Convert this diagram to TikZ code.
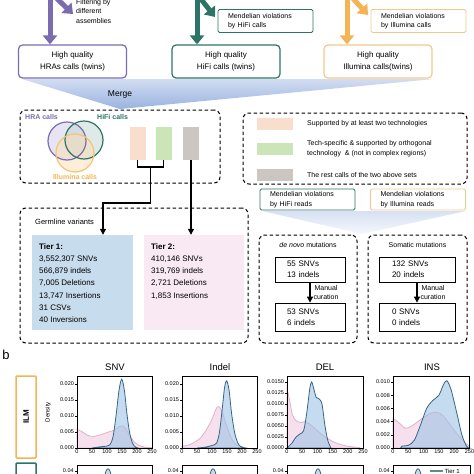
\documentclass[tikz,border=0pt]{standalone}
\usepackage{fontspec}
\setmainfont{Liberation Sans}
\usetikzlibrary{arrows.meta}

\definecolor{hrapurple}{HTML}{7A6CAE}
\definecolor{hifiteal}{HTML}{2E7466}
\definecolor{ilmorange}{HTML}{F4B455}
\definecolor{ilmframe}{HTML}{F1C98B}
\definecolor{tierblue}{HTML}{C7DCEC}
\definecolor{tierpink}{HTML}{F8E9F2}
\definecolor{suppeach}{HTML}{F9DDCD}
\definecolor{supgreen}{HTML}{CBE5B8}
\definecolor{restgray}{HTML}{CBC6C1}
\definecolor{dblue}{HTML}{9DC3E6}
\definecolor{dblueline}{HTML}{3A6486}
\definecolor{dpink}{HTML}{F1CCE2}
\definecolor{dpinkline}{HTML}{DDB1CD}
\definecolor{mergeblue}{HTML}{9AB3E0}

\tikzset{
  callbox/.style={draw, rounded corners=4pt, line width=1.2pt, minimum width=108pt,
    minimum height=33pt, align=center, inner sep=0pt, font=\fontsize{8}{11.5}\selectfont},
  mvbox/.style={draw, rounded corners=1.5pt, line width=0.9pt, minimum width=95pt,
    minimum height=23pt, text width=75pt, align=left, inner sep=0pt,
    font=\fontsize{7}{9.5}\selectfont},
  groupbox/.style={draw, line width=1pt, dash pattern=on 3.5pt off 2.5pt,
    rounded corners=6pt, inner sep=0pt},
  countbox/.style={draw, line width=0.8pt, minimum width=70pt, minimum height=25pt,
    align=left, inner sep=0pt, font=\fontsize{8}{11}\selectfont},
  fatarrow/.style={line width=5pt, -{Triangle[width=14pt,length=9pt]}},
  flow/.style={line width=1.2pt, -{Triangle[width=6pt,length=6pt]}},
  small/.style={font=\fontsize{7}{9.5}\selectfont},
  tiertext/.style={anchor=north west, align=left, inner sep=0pt,
    font=\fontsize{8}{12.3}\selectfont},
  ticklabel/.style={font=\fontsize{5.5}{6}\selectfont, inner sep=1pt},
  panel/.style={line width=0.6pt},
  tierone/.style={fill=dblue, fill opacity=0.6, draw=dblueline, line width=0.8pt},
  tiertwo/.style={fill=dpink, fill opacity=0.6, draw=dpinkline, line width=0.8pt}
}

\begin{document}
\begin{tikzpicture}[x=1pt,y=-1pt]
\clip (0,0) rectangle (474,474);

% calls of the three technologies
\node[callbox, draw=hrapurple] (hraCalls) at (72.5,61.5) {High quality\\HRAs calls (twins)};
\node[callbox, draw=hifiteal] (hifiCalls) at (226,61.5) {High quality\\HiFi calls (twins)};
\node[callbox, draw=ilmframe] (ilmCalls) at (378,61.5) {High quality\\Illumina calls(twins)};

\node[mvbox, draw=hifiteal] (hifiMv) at (265.5,21) {Mendelian violations\\by HiFi calls};
\node[mvbox, draw=ilmframe] (ilmMv) at (418.5,21) {Mendelian violations\\by Illumina calls};
\node[small, anchor=north west, align=left, inner sep=0pt] (filterText) at (76,-1)
  {Filtering by\\different\\assemblies};

\coordinate (hraIn) at (50,-15);
\coordinate (hraFork) at (50,-8);
\coordinate (hraOut) at (73,14);
\coordinate (hifiIn) at (197,-15);
\coordinate (hifiFork) at (197,-6);
\coordinate (hifiOut) at (215,17);
\coordinate (ilmIn) at (347,-15);
\coordinate (ilmFork) at (347,-8);
\coordinate (ilmOut) at (368,15);

\draw[fatarrow, hrapurple] (hraIn) -- (hraIn |- hraCalls.north);
\draw[fatarrow, hrapurple] (hraFork) -- (hraOut);
\draw[fatarrow, hifiteal] (hifiIn) -- (hifiIn |- hifiCalls.north);
\draw[fatarrow, hifiteal] (hifiFork) -- (hifiOut);
\draw[fatarrow, ilmorange] (ilmIn) -- (ilmIn |- ilmCalls.north);
\draw[fatarrow, ilmorange] (ilmFork) -- (ilmOut);

% merge
\shade[top color=mergeblue!45, bottom color=mergeblue] (22,79) -- (434,79) -- (120,109) -- cycle;
\node[font=\fontsize{8.5}{10}\selectfont] (merge) at (120,94) {Merge};

% venn and call sets
\node[groupbox, minimum width=200pt, minimum height=73pt] (venn) at (120,146.5) {};
\fill[hrapurple!35, fill opacity=0.5] (67,141) circle (19pt);
\fill[hifiteal!30, fill opacity=0.5] (84,140) circle (19pt);
\fill[ilmorange!45, fill opacity=0.5] (75,153) circle (19pt);
\draw[hrapurple, line width=1.2pt] (67,141) circle (19pt);
\draw[hifiteal, line width=1.2pt] (84,140) circle (19pt);
\draw[ilmorange!80, line width=1.2pt] (75,153) circle (19pt);
\node[anchor=west, inner sep=0pt, text=hrapurple, font=\bfseries\fontsize{7}{8}\selectfont] (hraLabel) at (25,117) {HRA calls};
\node[anchor=west, inner sep=0pt, text=hifiteal, font=\bfseries\fontsize{7}{8}\selectfont] (hifiLabel) at (97,117) {HiFi calls};
\node[inner sep=0pt, text=ilmorange, font=\bfseries\fontsize{7}{8}\selectfont] (ilmLabel) at (75,177) {Illumina calls};

\node[fill=suppeach, minimum width=16pt, minimum height=33pt, inner sep=0pt] (peachBar) at (137.5,143.5) {};
\node[fill=supgreen, minimum width=16pt, minimum height=33pt, inner sep=0pt] (greenBar) at (163.5,143.5) {};
\node[fill=restgray, minimum width=16pt, minimum height=33pt, inner sep=0pt] (grayBar) at (191,143.5) {};

% legend
\node[groupbox, minimum width=224pt, minimum height=71pt] (legend) at (355,148.5) {};
\node[fill=suppeach, minimum width=36pt, minimum height=12pt, inner sep=0pt] (peachKey) at (275,124) {};
\node[fill=supgreen, minimum width=36pt, minimum height=12pt, inner sep=0pt] (greenKey) at (275,149) {};
\node[fill=restgray, minimum width=36pt, minimum height=12pt, inner sep=0pt] (grayKey) at (275,175) {};
\node[small, anchor=west, inner sep=0pt] (peachText) at (307,124) {Supported by at least two technologies};
\node[small, anchor=west, align=left, inner sep=0pt] (greenText) at (307,148.5)
  {Tech-specific \& supported by orthogonal\\technology\ \ \& (not in complex regions)};
\node[small, anchor=west, inner sep=0pt] (grayText) at (307,175) {The rest calls of the two above sets};

% germline variants
\node[groupbox, minimum width=228pt, minimum height=135pt] (germline) at (134,275.5) {};
\node[anchor=west, inner sep=0pt, font=\fontsize{7.5}{9}\selectfont] (germText) at (35,222) {Germline variants};
\node[fill=tierblue, minimum width=101pt, minimum height=95pt, inner sep=0pt] (tierOne) at (82.5,282.5) {};
\node[fill=tierpink, minimum width=100pt, minimum height=95pt, inner sep=0pt] (tierTwo) at (193.5,282.5) {};
\node[tiertext] (tierOneText) at (39,243)
  {\textbf{Tier 1:}\\3,552,307 SNVs\\566,879 indels\\7,005 Deletions\\13,747 Insertions\\31 CSVs\\40 Inversions};
\node[tiertext] (tierTwoText) at (151,243)
  {\textbf{Tier 2:}\\410,146 SNVs\\319,769 indels\\2,721 Deletions\\1,853 Insertions};

\coordinate (bracketMid) at (150.5,167);
\coordinate (bracketBend) at (103,203);
\draw[line width=1.2pt] (peachBar.south) |- (bracketMid) -| (greenBar.south);
\draw[flow] (bracketMid) |- (bracketBend) -- (bracketBend |- tierOne.north);
\draw[flow] (grayBar.south) -- (grayBar.south |- tierTwo.north);

% mutations
\node[mvbox, draw=hifiteal, minimum height=21pt] (hifiReads) at (307.5,199.5) {Mendelian violations\\by HiFi reads};
\node[mvbox, draw=ilmframe, minimum height=21pt] (ilmReads) at (418,199.5) {Mendelian violations\\by Illumina reads};
\shade[top color=mergeblue!40, bottom color=mergeblue!10] (262,211) -- (466,211) -- (362,234) -- cycle;

\node[groupbox, minimum width=98pt, minimum height=108pt] (deNovo) at (308,289) {};
\node[groupbox, minimum width=99pt, minimum height=108pt] (somatic) at (417.5,289) {};
\node[small] (deNovoTitle) at (308,245) {\textit{de novo} mutations};
\node[small] (somaticTitle) at (417.5,245) {Somatic mutations};

\node[countbox, text width=46pt] (deNovoRaw) at (310,269.5) {55 SNVs\\13 indels};
\node[countbox, text width=46pt, minimum height=28pt] (deNovoCur) at (310,317) {53 SNVs\\6 indels};
\node[countbox, minimum width=76pt, text width=50pt] (somaticRaw) at (417,269.5) {132 SNVs\\20 indels};
\node[countbox, minimum width=76pt, text width=50pt, minimum height=28pt] (somaticCur) at (417,317) {0 SNVs\\0 indels};
\draw[flow] (deNovoRaw) -- node[small, right=3pt, align=center, inner sep=0pt] {Manual\\curation} (deNovoCur);
\draw[flow] (somaticRaw) -- node[small, right=3pt, align=center, inner sep=0pt] {Manual\\curation} (somaticCur);

% panel b
\node[font=\fontsize{13}{14}\selectfont] (panelB) at (6,355) {b};
\node[draw=ilmorange, line width=1.5pt, rounded corners=1pt, minimum width=20pt, minimum height=82pt] (ilmRow) at (26,417) {};
\node[rotate=90, font=\bfseries\fontsize{8}{9}\selectfont] (ilmRowText) at (26,417) {ILM};
\node[draw=hifiteal, line width=1.5pt, rounded corners=1pt, minimum width=20pt, minimum height=30pt] (hifiRow) at (26,478) {};
\node[rotate=90, font=\fontsize{6}{7}\selectfont] (densityLabel) at (48,412) {Density};

\node[font=\fontsize{9.5}{10}\selectfont] (snvTitle) at (115,367) {SNV};
\node[font=\fontsize{9.5}{10}\selectfont] (indelTitle) at (220,367) {Indel};
\node[font=\fontsize{9.5}{10}\selectfont] (delTitle) at (325,367) {DEL};
\node[font=\fontsize{9.5}{10}\selectfont] (insTitle) at (432,367) {INS};

% SNV
\begin{scope}[shift={(77,448)}, x=0.3pt, y=3.2pt]
\filldraw[tiertwo] (0,0) -- plot[smooth] coordinates {(0,5.8) (15,5.2) (35,4) (55,3.6) (80,4.2) (105,5) (125,5.6) (145,6.9) (160,6.3) (175,4) (190,2) (205,0.9) (225,0.3) (250,0.1)} -- (250,0) -- cycle;
\filldraw[tierone] (50,0) -- plot[smooth] coordinates {(50,0) (80,0.4) (100,0.6) (110,1) (120,3.5) (130,10) (140,18) (149,21.5) (158,18) (166,11) (175,5) (185,1.5) (195,0.3) (205,0)} -- cycle;
\draw[panel] (0,0) rectangle (250,22.5);
\foreach \v/\t in {0/0.000,5/0.005,10/0.010,15/0.015,20/0.020}
  \draw[panel] (0,\v) -- (-6,\v) node[ticklabel, left] {\t};
\foreach \v in {0,50,...,250}
  \node[ticklabel, below] at (\v,0) {\v};
\end{scope}

% Indel
\begin{scope}[shift={(182,448)}, x=0.3pt, y=3.2pt]
\filldraw[tiertwo] (0,0) -- plot[smooth] coordinates {(0,0.5) (30,1.2) (60,3) (80,5.5) (100,9) (115,12.5) (125,12.8) (135,11) (145,8) (160,4) (175,1.5) (195,0.4) (220,0)} -- cycle;
\filldraw[tierone] (50,0) -- plot[smooth] coordinates {(50,0) (80,0.3) (100,0.8) (115,1.5) (125,5) (135,13) (142,19) (149,21) (157,18) (165,11) (175,5) (185,1.8) (195,0.5) (210,0)} -- cycle;
\draw[panel] (0,0) rectangle (250,22.5);
\foreach \v/\t in {0/0.000,5/0.005,10/0.010,15/0.015,20/0.020}
  \draw[panel] (0,\v) -- (-6,\v) node[ticklabel, left] {\t};
\foreach \v in {0,50,...,250}
  \node[ticklabel, below] at (\v,0) {\v};
\end{scope}

% DEL
\begin{scope}[shift={(287,448)}, x=0.304pt, y=4.4pt]
\filldraw[tiertwo] (0,0) -- plot[smooth] coordinates {(0,13.6) (8,11) (18,7.5) (30,6.2) (45,5.8) (60,6) (75,5.4) (95,4.2) (120,2.8) (150,1.5) (180,0.7) (210,0.3) (240,0.1)} -- (240,0) -- cycle;
\filldraw[tierone] (0,0) -- plot[smooth] coordinates {(0,0) (15,1) (30,2.5) (45,3.3) (55,4) (65,8) (75,13.5) (81,15) (88,13.5) (96,11.5) (105,11.2) (115,10) (125,5) (135,1.5) (145,0)} -- cycle;
\draw[panel] (0,0) rectangle (250,16.36);
\foreach \v/\t in {0/0.0000,2.5/0.0025,5/0.0050,7.5/0.0075,10/0.0100,12.5/0.0125,15/0.0150}
  \draw[panel] (0,\v) -- (-6,\v) node[ticklabel, left] {\t};
\foreach \v in {0,50,...,250}
  \node[ticklabel, below] at (\v,0) {\v};
\end{scope}

% INS
\begin{scope}[shift={(393,448)}, x=0.306pt, y=6.6pt]
\filldraw[tiertwo] (0,0) -- plot[smooth] coordinates {(0,4.5) (20,3.8) (40,3) (60,3.3) (90,4.3) (120,5.2) (145,5.4) (165,4.8) (190,3.3) (215,1.8) (240,0.6) (250,0.3)} -- (250,0) -- cycle;
\filldraw[tierone] (25,0) -- plot[smooth] coordinates {(25,0) (30,0.3) (50,0.4) (70,1.2) (90,3.5) (110,6) (130,7.2) (150,8) (165,9.6) (176,10.2) (190,8.8) (210,5) (225,2) (240,0.3) (250,0)} -- cycle;
\draw[panel] (0,0) rectangle (250,10.9);
\foreach \v/\t in {0/0.000,2/0.002,4/0.004,6/0.006,8/0.008,10/0.010}
  \draw[panel] (0,\v) -- (-6,\v) node[ticklabel, left] {\t};
\foreach \v in {0,50,...,250}
  \node[ticklabel, below] at (\v,0) {\v};
\end{scope}

% next row (cut off)
\foreach \xo/\w/\px in {77/75/108, 182/75/213, 287/76/318, 393/77/418} {
  \filldraw[tierone] (\px-4,480) .. controls (\px-2,465) and (\px+2,465) .. (\px+4,480) -- cycle;
  \draw[panel] (\xo,465) rectangle (\xo+\w,490);
  \draw[panel] (\xo,471) -- (\xo-2,471) node[ticklabel, left] {0.04};
}
\coordinate (keyStart) at (430,471);
\coordinate (keyEnd) at (443,471);
\draw[hifiteal!80, line width=1.2pt] (keyStart) -- (keyEnd) node[ticklabel, right, font=\fontsize{6}{7}\selectfont, text=black] (keyText) {Tier 1};
\end{tikzpicture}
\end{document}
